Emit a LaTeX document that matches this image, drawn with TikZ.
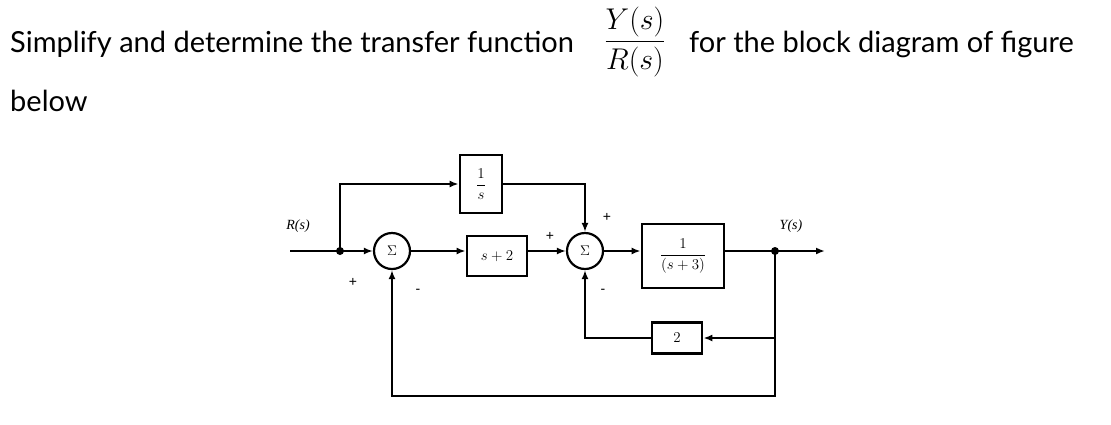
\RequirePackage{fix-cm}
\documentclass[tikz,border=0pt]{standalone}
\usepackage{fontspec}
\usepackage{amsmath}
\setmainfont{Lato}
\newfontfamily\blockfont{Liberation Serif}
\newfontfamily\signfont{Liberation Sans}
\usetikzlibrary{arrows.meta,positioning,calc}

\tikzset{
  blk/.style={draw, line width=2.8pt, minimum height=#1, inner sep=0pt, font=\blockfont\fontsize{15}{16}\selectfont},
  blk/.default=40pt,
  sumnode/.style={draw, circle, line width=2.2pt, minimum size=36pt, inner sep=0pt, font=\blockfont\fontsize{14}{15}\selectfont},
  sig/.style={line width=1.8pt, -{Latex[length=9pt,width=7pt]}},
  wire/.style={line width=1.8pt},
  sgn/.style={font=\signfont\fontsize{14}{15}\selectfont},
  lbl/.style={font=\blockfont\itshape\fontsize{14}{15}\selectfont}
}

\begin{document}
\begin{tikzpicture}[x=1pt,y=-1pt]
  \useasboundingbox (0,0) rectangle (1111,424);
  % Question text
  \node[anchor=west, inner sep=0pt, font=\fontsize{29}{34}\selectfont] (q1) at (10,44) {Simplify and determine the transfer function};
  \node[inner sep=0pt, font=\fontsize{30}{36}\selectfont] (frac) at (635,42) {$\dfrac{Y(s)}{R(s)}$};
  \node[anchor=west, inner sep=0pt, font=\fontsize{29}{34}\selectfont] (q2) at (689,44) {for the block diagram of figure};
  \node[anchor=west, inner sep=0pt, font=\fontsize{29}{34}\selectfont] (q3) at (10,101) {below};
  % Blocks
  \node[sumnode] (s1) at (392,251) {$\Sigma$};
  \node[sumnode] (s2) at (585,251) {$\Sigma$};
  \node[blk, minimum width=60pt] (g1) at (497,256) {$s+2$};
  \node[blk=58pt, minimum width=42pt] (gi) at (481,184) {$\dfrac{1}{s}$};
  \node[blk=64pt, minimum width=82pt] (g2) at (683,256) {$\dfrac{1}{(s+3)}$};
  \node[blk=31pt, minimum width=50pt] (h) at (677,338) {$2$};
  % Points
  \coordinate (in) at (290,251);
  \coordinate (dot) at (340,251);
  \coordinate (odot) at (775,251);
  \coordinate (out) at (825,251);
  \fill (dot) circle (4pt);
  \fill (odot) circle (4pt);
  % Connections
  \draw[wire] (in) -- (dot);
  \draw[sig] (dot) -- (s1);
  \draw[sig] (dot) |- (gi);
  \draw[sig] (gi) -| (s2);
  \draw[sig] (s1) -- (s1 -| g1.west);
  \draw[sig] (g1.east |- s2) -- (s2);
  \draw[sig] (s2) -- (s2 -| g2.west);
  \draw[wire] (g2.east |- odot) -- (odot);
  \draw[sig] (odot) -- (out);
  \draw[sig] (odot) |- (h);
  \draw[sig] (h) -| (s2);
  \draw[sig] (odot) |- (392,396) -- (s1);
  % Labels
  \node[lbl] (rl) at (298,226) {R(s)};
  \node[lbl] (yl) at (791,226) {Y(s)};
  \node[sgn] at (353,282) {+};
  \node[sgn] at (418,291) {-};
  \node[sgn] at (550,236) {+};
  \node[sgn] at (607,217) {+};
  \node[sgn] at (603,291) {-};
\end{tikzpicture}
\end{document}
